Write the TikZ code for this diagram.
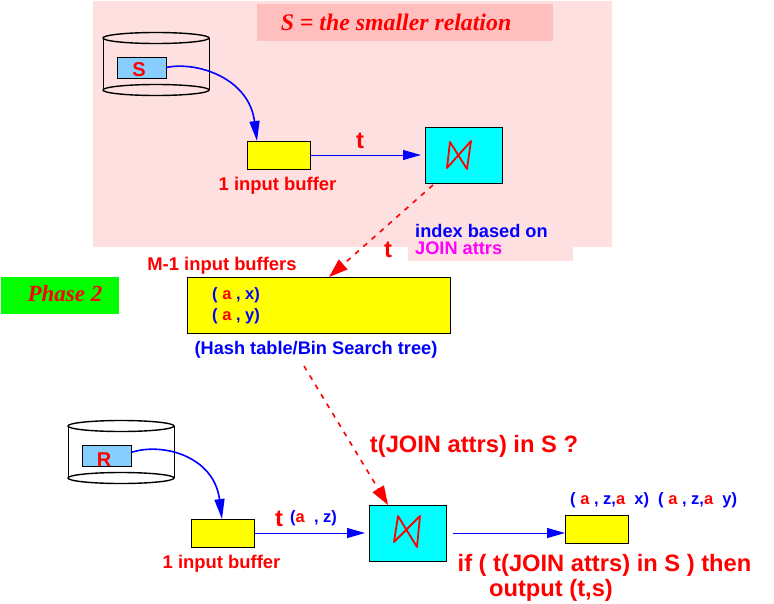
\documentclass[tikz,border=0pt]{standalone}
\usepackage{fontspec}
\setmainfont{Liberation Sans}
\newfontfamily\titlefont{Liberation Serif}
\usetikzlibrary{arrows.meta}
\definecolor{bgpink}{RGB}{255,224,224}
\definecolor{darkpink}{RGB}{255,191,191}
\definecolor{skyb}{RGB}{135,206,255}
\definecolor{pyellow}{RGB}{255,255,0}
\definecolor{pcyan}{RGB}{0,255,255}
\definecolor{pgreen}{RGB}{0,255,0}
\definecolor{pmagenta}{RGB}{255,0,255}
\definecolor{pred}{RGB}{255,0,0}
\definecolor{pblue}{RGB}{0,0,255}
\tikzset{
  x=1pt,y=-1pt,
  boxn/.style={draw=black,line width=1pt,inner sep=0pt,outer sep=0pt},
  buffer/.style={boxn,fill=pyellow,minimum width=63pt,minimum height=28pt},
  joinbox/.style={boxn,fill=pcyan,minimum width=77pt,minimum height=56pt},
  relbox/.style={draw=black,line width=.8pt,fill=skyb,inner sep=0pt,outer sep=0pt,minimum width=49pt,minimum height=21pt},
  rellab/.style={text=pred,inner sep=0pt,font=\bfseries\fontsize{20}{20}\selectfont},
  redlab/.style={text=pred,inner sep=0pt,font=\bfseries\fontsize{18.4}{20}\selectfont},
  biglab/.style={text=pred,inner sep=0pt,font=\bfseries\fontsize{23.7}{26}\selectfont},
  bluelab/.style={text=pblue,inner sep=0pt,font=\bfseries\fontsize{18.2}{20}\selectfont},
  tuple/.style={text=pblue,inner sep=0pt,anchor=west,font=\bfseries\fontsize{16.5}{18}\selectfont},
  flow/.style={pblue,line width=1pt,-{Triangle[length=18pt,width=10pt]}},
  curved/.style={pblue,line width=1.6pt,-{Triangle[length=20pt,width=10pt]}},
  dashflow/.style={pred,line width=1.6pt,dash pattern=on 5pt off 6pt,-{Triangle[length=19pt,width=13pt,fill=pred]}},
  bowtie/.style={pred,line width=1.8pt,line join=round},
  disc/.style={black,line width=1pt}
}
\newcommand{\ra}{\textcolor{pred}{a}}
\begin{document}
\begin{tikzpicture}
\useasboundingbox (0,0) rectangle (774,603);
% backgrounds
\fill[bgpink] (93,1) rectangle (612,247);
\fill[bgpink] (408,247) rectangle (573,261);
\fill[darkpink] (257,4) rectangle (553,41);
\node[text=pred,inner sep=0pt,font=\titlefont\bfseries\itshape\fontsize{23.8}{26}\selectfont] (title) at (396,22) {S = the smaller relation};
\node[fill=pgreen,minimum width=118pt,minimum height=37pt,inner sep=0pt,outer sep=0pt] (phase) at (60,295.5) {};
\node[text=pred,inner sep=0pt,font=\titlefont\bfseries\itshape\fontsize{23}{25}\selectfont] (phasetext) at (65,294) {Phase 2};
% upper cylinder
\draw[disc] (103,38) -- (103,90) (209,38) -- (209,90);
\draw[disc,line width=1.4pt] (156,38) ellipse [x radius=53,y radius=5.5];
\draw[disc,line width=1.4pt] (156,90) ellipse [x radius=53,y radius=5.5];
\node[relbox] (srel) at (141.5,67.5) {};
\node[rellab] (slab) at (139,70) {S};
% lower cylinder
\draw[disc] (68,426) -- (68,478) (174,426) -- (174,478);
\draw[disc,line width=1.4pt] (121,426) ellipse [x radius=53,y radius=5.5];
\draw[disc,line width=1.4pt] (121,478) ellipse [x radius=53,y radius=5.5];
\node[relbox] (rrel) at (106.5,455.5) {};
\node[rellab] (rlab) at (104,460) {R};
% boxes
\node[buffer] (buf1) at (278.5,155) {};
\node[joinbox] (join1) at (463.5,155) {};
\node[boxn,fill=pyellow,minimum width=263pt,minimum height=56pt] (table) at (318.5,305) {};
\node[buffer] (buf2) at (222.5,533) {};
\node[joinbox] (join2) at (407.5,533) {};
\node[buffer] (buf3) at (596.5,529) {};
% bowties
\draw[bowtie] (450,142) -- (447,168) -- (471,141) -- (467,169) -- cycle;
\draw[bowtie] (398,516) -- (394,542) -- (420,516) -- (417,547) -- cycle;
% connectors
\draw[curved] (srel.east) .. controls (197,61) and (249,78) .. ([xshift=10pt]buf1.north west);
\draw[curved] ([yshift=3pt]rrel.east) .. controls (162,442) and (214,456) .. ([xshift=31pt]buf2.north west);
\draw[flow] (buf1.east) -- ([xshift=-4pt]join1.west);
\draw[flow] (buf2.east) -- ([xshift=-4pt]join2.west);
\draw[flow] ([xshift=7pt]join2.east) -- (buf3.west |- join2.east);
\draw[dashflow] ([xshift=8pt,yshift=-2pt]join1.south west) -- ([xshift=142pt]table.north west);
\draw[dashflow] ([xshift=117pt,yshift=-33pt]table.south west) -- ([xshift=19pt]join2.north west);
% labels
\node[redlab] (l1) at (277.5,186) {1 input buffer};
\node[redlab] (l2) at (221.5,564) {1 input buffer};
\node[biglab] (t1) at (360,141) {t};
\node[biglab] (t2) at (388,250) {t};
\node[biglab] (t3) at (279,519) {t};
\node[bluelab,anchor=west] (idx) at (415,231) {index based on};
\node[text=pmagenta,inner sep=0pt,anchor=west,font=\bfseries\fontsize{18.2}{20}\selectfont] (attrs) at (415,248) {JOIN attrs};
\node[redlab] (m1) at (222,266) {M-1 input buffers};
\node[bluelab] (hash) at (316,350) {(Hash table/Bin Search tree)};
\node[tuple] (ax) at (212,295) {( \ra\ , x)};
\node[tuple] (ay) at (212,316) {( \ra\ , y)};
\node[tuple] (az) at (290,518) {(\ra\ \ , z)};
\node[tuple] (res) at (570,500) {( \ra\ , z,\ra\ \ x)\ \ ( \ra\ , z,\ra\ \ y)};
\node[biglab] (q) at (474,446) {t(JOIN attrs) in S ?};
\node[biglab] (iff) at (604.5,565) {if ( t(JOIN attrs) in S ) then};
\node[biglab] (out) at (551,590) {output (t,s)};
\end{tikzpicture}
\end{document}
